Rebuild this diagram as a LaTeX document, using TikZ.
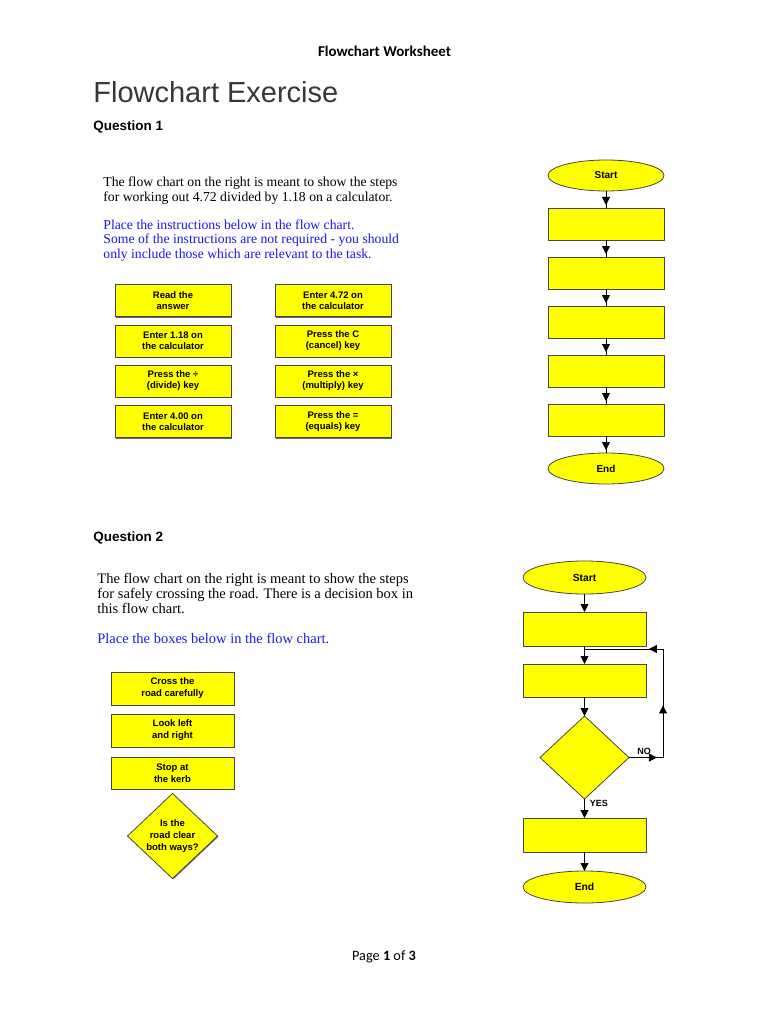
\documentclass[tikz,border=0pt]{standalone}
\usepackage{fontspec}
\setmainfont{Liberation Serif}
\setsansfont{Liberation Sans}
\newfontfamily\calibrifont{Carlito}
\usepackage{xcolor}
\usetikzlibrary{arrows.meta,shapes.geometric,positioning,shadows,decorations.markings}
\definecolor{cardYellow}{RGB}{255,255,0}
\definecolor{cardEdge}{RGB}{70,70,70}
\definecolor{taskBlue}{RGB}{25,25,235}
\definecolor{titleGray}{RGB}{55,55,55}
\tikzset{%
  >={Triangle[width=8pt,length=8pt]},
  % Specifications for style of nodes:
         base/.style = {draw=cardEdge, fill=cardYellow, line width=0.8pt,
                        inner sep=0pt, outer sep=0pt, align=center,
                        font=\sffamily\bfseries\fontsize{9.5}{11}\selectfont},
      cardBox/.style = {base, rectangle, minimum width=116pt, minimum height=32pt,
                        drop shadow={shadow xshift=1pt, shadow yshift=-1pt,
                        fill=black!60, opacity=1}},
     cardWide/.style = {cardBox, minimum width=123pt, minimum height=33pt,
                        font=\sffamily\bfseries\fontsize{9.5}{12}\selectfont},
    cardCheck/.style = {base, diamond, minimum width=90pt, minimum height=76pt,
                        drop shadow={shadow xshift=0.8pt, shadow yshift=-0.8pt,
                        fill=black!60, opacity=1},
                        font=\sffamily\bfseries\fontsize{9.5}{12}\selectfont},
     terminal/.style = {base, ellipse, minimum width=116pt, minimum height=31pt,
                        font=\sffamily\bfseries\fontsize{10}{11}\selectfont},
         slot/.style = {base, rectangle, minimum width=116pt, minimum height=32pt},
     slotWide/.style = {slot, minimum width=123pt, minimum height=33pt},
     decision/.style = {base, diamond, minimum width=89pt, minimum height=83pt},
    flowLabel/.style = {inner sep=0pt, font=\sffamily\bfseries\fontsize{9}{10}\selectfont},
     gapArrow/.style = {draw, postaction={draw, ->, shorten >=3pt}},
     midArrow/.style = {postaction={decorate}, decoration={markings,
                        mark=at position #1 with {\arrow{Triangle[width=8pt,length=8pt]}}}},
      taskText/.style = {anchor=north west, inner sep=0pt, align=left},
}
\begin{document}
\begin{tikzpicture}[x=1pt, y=-1pt, line width=0.8pt]
  \path[use as bounding box, fill=white] (0,0) rectangle (768,1024);
  % Page header and headings
  \node (sheetTitle) [anchor=base, font=\calibrifont\bfseries\fontsize{15}{17}\selectfont]
        at (384.5,56.5) {Flowchart Worksheet};
  \node (exTitle) [anchor=base west, inner sep=0pt, text=titleGray,
        font=\sffamily\fontsize{29}{34}\selectfont] at (93,103) {Flowchart Exercise};
  \node (questionA) [anchor=base west, inner sep=0pt,
        font=\sffamily\bfseries\fontsize{13.5}{15}\selectfont] at (93,131) {Question 1};
  \node (questionB) [anchor=base west, inner sep=0pt,
        font=\sffamily\bfseries\fontsize{13.5}{15}\selectfont] at (93,541) {Question 2};
  \node (footer) [anchor=base, font=\calibrifont\fontsize{14.3}{16}\selectfont]
        at (384,960) {Page \textbf{1} of \textbf{3}};

  % Question 1: task text
  \node (taskA) [taskText, font=\fontsize{13.7}{14.5}\selectfont] at (103,176.5)
        {The flow chart on the right is meant to show the steps\\
         for working out 4.72 divided by 1.18 on a calculator.};
  \node (hintA) [taskText, text=taskBlue, font=\fontsize{13.7}{14.5}\selectfont] at (103,219)
        {Place the instructions below in the flow chart.\\
         Some of the instructions are not required - you should\\
         only include those which are relevant to the task.};

  % Question 1: instruction cards
  \node (readAns)   [cardBox] at (173,300.5) {Read the\\answer};
  \node (enterB)    [cardBox] at (173,341)   {Enter 1.18 on\\the calculator};
  \node (pressDiv)  [cardBox] at (173,381)   {Press the ÷\\(divide) key};
  \node (enterC)    [cardBox] at (173,421.5) {Enter 4.00 on\\the calculator};
  \node (enterA)    [cardBox] at (333,300.5) {Enter 4.72 on\\the calculator};
  \node (pressC)    [cardBox] at (333,341)   {Press the C\\(cancel) key};
  \node (pressMul)  [cardBox] at (333,381)   {Press the ×\\(multiply) key};
  \node (pressEq)   [cardBox] at (333,421.5) {Press the =\\(equals) key};

  % Question 1: flow chart (position, etc.)
  \node (startA) [terminal] at (606,175.5) {Start};
  \node (stepA1) [slot, below=17pt of startA] {};
  \node (stepA2) [slot, below=17pt of stepA1] {};
  \node (stepA3) [slot, below=17pt of stepA2] {};
  \node (stepA4) [slot, below=17pt of stepA3] {};
  \node (stepA5) [slot, below=17pt of stepA4] {};
  \node (endA)   [terminal, below=17pt of stepA5] {End};
  % Specification of lines between nodes specified above
  \draw[gapArrow] (startA) -- (stepA1);
  \draw[gapArrow] (stepA1) -- (stepA2);
  \draw[gapArrow] (stepA2) -- (stepA3);
  \draw[gapArrow] (stepA3) -- (stepA4);
  \draw[gapArrow] (stepA4) -- (stepA5);
  \draw[gapArrow] (stepA5) -- (endA);

  % Question 2: task text
  \node (taskB) [taskText, font=\fontsize{14.5}{15}\selectfont] at (97,573)
        {The flow chart on the right is meant to show the steps\\
         for safely crossing the road. There is a decision box in\\
         this flow chart.};
  \node (hintB) [taskText, text=taskBlue, font=\fontsize{14.5}{15}\selectfont] at (97,633)
        {Place the boxes below in the flow chart.};

  % Question 2: cards
  \node (crossRoad) [cardWide]  at (172.5,688.5) {Cross the\\road carefully};
  \node (lookBoth)  [cardWide]  at (172.5,730.5) {Look left\\and right};
  \node (stopKerb)  [cardWide, minimum height=32pt] at (172.5,773) {Stop at\\the kerb};
  \node (roadClear) [cardCheck] at (172.5,836)   {Is the\\road clear\\both ways?};

  % Question 2: flow chart (position, etc.)
  \node (startB) [terminal, minimum width=123pt, minimum height=33pt,
                  font=\sffamily\bfseries\fontsize{10.3}{11}\selectfont] at (584.5,577.5) {Start};
  \node (stepB1) [slotWide, minimum height=34pt, below=18pt of startB] {};
  \node (stepB2) [slotWide, below=18pt of stepB1] {};
  \node (check)  [decision, below=19pt of stepB2] {};
  \node (stepB3) [slotWide, minimum height=34pt, below=19pt of check] {};
  \node (endB)   [terminal, minimum width=123pt, minimum height=32pt,
                  font=\sffamily\bfseries\fontsize{10.3}{11}\selectfont,
                  below=19pt of stepB3] {End};
  \coordinate[below=3pt of stepB1.south] (merge);
  \coordinate[right=34pt of check.east] (noTurn);
  \coordinate (loopTop) at (noTurn |- merge);
  \node (noLabel)  [flowLabel, anchor=south west] at ([xshift=8pt,yshift=2.5pt]check.east) {NO};
  \node (yesLabel) [flowLabel, anchor=north west] at ([xshift=5pt,yshift=-1pt]check.south) {YES};
  % Specification of lines between nodes specified above
  \draw[->] (startB) -- (stepB1);
  \draw[->] (stepB1) -- (stepB2);
  \draw[->] (stepB2) -- (check);
  \draw[->] (check) -- (stepB3);
  \draw[->] (stepB3) -- (endB);
  \draw[midArrow=0.82] (check.east) -- (noTurn);
  \draw[midArrow=0.48] (noTurn) -- (loopTop);
  \draw[midArrow=0.18] (loopTop) -- (merge);
\end{tikzpicture}
\end{document}
